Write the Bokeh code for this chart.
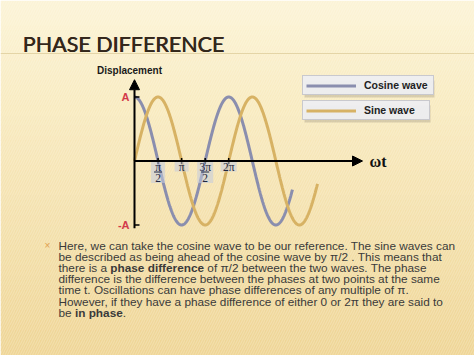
import numpy as np
from bokeh.plotting import figure
from bokeh.models import (Range1d, Label, Arrow, NormalHead, Legend, LegendItem,
                          BoxAnnotation, Span, ColumnDataSource)
from bokeh.core.properties import value
from bokeh.embed import file_html
from bokeh.resources import INLINE

W, H = 474, 355

# ---------------- data ----------------
TITLE = "PHASE DIFFERENCE"
Y_LABEL = "Displacement"
X_LABEL = "ωt"
AMPLITUDE = 1.0
amp_labels = ["A", "-A"]
amp_values = [AMPLITUDE, -AMPLITUDE]
tick_values = [np.pi / 2, np.pi, 3 * np.pi / 2, 2 * np.pi]
tick_numerators = ["π", "π", "3π", "2π"]
tick_denominators = ["2", "", "2", ""]
series_names = ["Cosine wave", "Sine wave"]
cos_end = 10.53   # radians where the drawn cosine stops
sin_end = 12.2    # radians where the drawn sine stops
x_axis_end = 15.2
y_axis_bottom = -1.05
y_axis_top = 1.27

bullet_segments = [
    # (line, text, bold)
    (0, "Here, we can take the cosine wave to be our reference. The sine waves can", False),
    (1, "be described as being ahead of the cosine wave by π/2 . This means that", False),
    (2, "there is a ", False), (2, "phase difference", True),
    (2, " of π/2 between the two waves. The phase", False),
    (3, "difference is the difference between the phases at two points at the same", False),
    (4, "time t. Oscillations can have phase differences of any multiple of π.", False),
    (5, "However, if they have a phase difference of either 0 or 2π they are said to", False),
    (6, "be ", False), (6, "in phase", True), (6, ".", False),
]

# ---------------- layout constants ----------------
ORIGIN_X, ORIGIN_Y = 134.0, 160.5
PX_PER_RAD, PX_PER_AMP = 15.0, 64.0
TXT_SIZE = 11.8
TXT_X, TXT_Y0, TXT_DY = 58.0, 245.0, 11.2

REG = dict(zip("abcdefghijklmnopqrstuvwxyz ",
               [556, 556, 500, 556, 556, 278, 556, 556, 222, 222, 500, 222, 833, 556, 556, 556,
                556, 333, 500, 278, 556, 500, 722, 500, 500, 500, 278]))
BLD = dict(zip("abcdefghijklmnopqrstuvwxyz ",
               [556, 611, 556, 611, 556, 333, 611, 611, 278, 278, 556, 278, 889, 611, 611, 611,
                611, 389, 556, 333, 611, 556, 778, 556, 556, 500, 278]))


def text_w(s, bold):
    m = BLD if bold else REG
    return sum(m.get(c, 556) for c in s) * TXT_SIZE / 1000.0


p = figure(width=W, height=H, x_range=Range1d(0, W), y_range=Range1d(H, 0),
           min_border=0, toolbar_location=None, output_backend="svg",
           x_axis_location=None, y_axis_location=None)
p.grid.visible = False
p.outline_line_color = None
p.extra_x_ranges = {"theta": Range1d(-ORIGIN_X / PX_PER_RAD, (W - ORIGIN_X) / PX_PER_RAD)}
p.extra_y_ranges = {"amp": Range1d(-(H - ORIGIN_Y) / PX_PER_AMP, ORIGIN_Y / PX_PER_AMP)}

# ---------------- background ----------------
stops_y = [0, 90, 355]
stops_c = [(252, 244, 214), (249, 236, 194), (239, 213, 148)]
edges = np.linspace(0, H, 72)
mids = (edges[:-1] + edges[1:]) / 2
bg_cols = []
for yy in mids:
    c = [int(np.interp(yy, stops_y, [s[k] for s in stops_c])) for k in range(3)]
    bg_cols.append("#%02x%02x%02x" % tuple(c))
p.quad(left=0, right=W, top=edges[:-1], bottom=edges[1:] + 0.5, fill_color=bg_cols, line_color=None)
p.quad(left=0, right=W, top=0, bottom=H, fill_alpha=0, line_alpha=0,
       hatch_pattern="/", hatch_color="#ffffff", hatch_alpha=0.2, hatch_scale=5, hatch_weight=1.2)
p.add_layout(Span(location=53, dimension="width", line_color="#e4d4a6", line_width=1))

# ---------------- title ----------------
for dx in (0.0, 0.6):
    p.add_layout(Label(x=22 + dx, y=43, text=TITLE, text_font="Lato", text_font_size="21.5px",
                       text_color="#33271b", text_baseline="alphabetic"))

# ---------------- waves ----------------
theta_cos = np.linspace(0, cos_end, 400)
theta_sin = np.linspace(0, sin_end, 460)
cos_r = p.line(theta_cos, AMPLITUDE * np.cos(theta_cos), x_range_name="theta", y_range_name="amp",
               line_color="#8a8eae", line_width=3)
sin_r = p.line(theta_sin, AMPLITUDE * np.sin(theta_sin), x_range_name="theta", y_range_name="amp",
               line_color="#d7b264", line_width=3)

# ---------------- axes ----------------
head = dict(size=10, fill_color="black", line_color="black")
p.add_layout(Arrow(x_start=0, y_start=0, x_end=x_axis_end, y_end=0, x_range_name="theta",
                   y_range_name="amp", line_width=2, end=NormalHead(**head)))
p.add_layout(Arrow(x_start=0, y_start=y_axis_bottom, x_end=0, y_end=y_axis_top, x_range_name="theta",
                   y_range_name="amp", line_width=2, end=NormalHead(**head)))

tick_half = 3 / PX_PER_AMP
p.segment(x0=tick_values, x1=tick_values, y0=[-tick_half] * 4, y1=[tick_half] * 4,
          x_range_name="theta", y_range_name="amp", line_color="black", line_width=1.5)
p.segment(x0=[0, 0], x1=[5 / PX_PER_RAD] * 2, y0=amp_values, y1=amp_values,
          x_range_name="theta", y_range_name="amp", line_color="black", line_width=1.5)

# tick label highlight boxes
is_frac = [d != "" for d in tick_denominators]
box_h = [22 if f else 11 for f in is_frac]
box_y = [-(11 if f else 5) / PX_PER_AMP for f in is_frac]
box_w = [14 if len(n) == 1 else 16 for n in tick_numerators]
p.rect(x=tick_values, y=box_y, width=box_w, height=box_h, width_units="screen",
       height_units="screen", x_range_name="theta", y_range_name="amp",
       fill_color="#c3cadf", fill_alpha=0.55, line_color=None)

lab_style = dict(text_font=value("Liberation Serif"), text_font_size="11.5px",
                 text_color="#1f2740", text_align="center", text_baseline="middle",
                 x_range_name="theta", y_range_name="amp")
p.text(x=tick_values, y=[0] * 4, text=tick_numerators, y_offset=5.5, **lab_style)
p.text(x=tick_values, y=[0] * 4, text=tick_denominators, y_offset=16.5, **lab_style)
frac_x = [t for t, f in zip(tick_values, is_frac) if f]
bar_y = -11 / PX_PER_AMP
p.segment(x0=[t - 4 / PX_PER_RAD for t in frac_x], x1=[t + 4 / PX_PER_RAD for t in frac_x],
          y0=[bar_y] * len(frac_x), y1=[bar_y] * len(frac_x),
          x_range_name="theta", y_range_name="amp", line_color="#1f2740", line_width=1)

p.text(x=[0, 0], y=amp_values, text=amp_labels, x_offset=-5, x_range_name="theta",
       y_range_name="amp", text_font=value("Liberation Sans"), text_font_size="11px",
       text_font_style="bold", text_color="#d23a4a", text_align="right", text_baseline="middle")

p.add_layout(Label(x=129, y=70, text=Y_LABEL, text_font="Liberation Sans", text_font_size="10px",
                   text_font_style="bold", text_color="#1a1a1a", text_align="center",
                   text_baseline="middle"))
p.add_layout(Label(x=x_axis_end, y=0, x_range_name="theta", y_range_name="amp", x_offset=7,
                   text=X_LABEL, text_font="Liberation Serif", text_font_size="16px",
                   text_font_style="bold", text_color="#111111", text_baseline="middle"))

# ---------------- legend boxes ----------------
p.add_layout(BoxAnnotation(left=304, right=434, top=80, bottom=97, fill_color="#8a8070",
                           fill_alpha=0.3, line_alpha=0))
p.add_layout(BoxAnnotation(left=304, right=430, top=105, bottom=122, fill_color="#8a8070",
                           fill_alpha=0.3, line_alpha=0))
for r, name, loc, lw in [(cos_r, series_names[0], (302, 260), 66), (sin_r, series_names[1], (302, 235), 62)]:
    leg = Legend(items=[LegendItem(label=name, renderers=[r])], location=loc,
                 glyph_width=50, glyph_height=11, label_height=11, label_width=lw,
                 label_standoff=8, padding=3, margin=0, spacing=0,
                 border_line_color="#a4a4ac", border_line_width=1,
                 background_fill_color="#eeeef1", background_fill_alpha=0.95,
                 label_text_font="Liberation Sans", label_text_font_size="10.5px",
                 label_text_font_style="bold", label_text_color="#222222")
    p.add_layout(leg)

# ---------------- bullet text ----------------
xs, ys, ts, st = [], [], [], []
cursor = {}
for line, txt, bold in bullet_segments:
    x0 = cursor.get(line, TXT_X)
    lead = len(txt) - len(txt.lstrip(" "))
    x0 += text_w(" " * lead, bold)
    body = txt.lstrip(" ")
    xs.append(x0)
    ys.append(TXT_Y0 + line * TXT_DY)
    ts.append(body)
    st.append("bold" if bold else "normal")
    cursor[line] = x0 + text_w(body, bold)
src = ColumnDataSource(dict(x=xs, y=ys, text=ts, style=st))
p.text(x="x", y="y", text="text", source=src, text_font=value("Liberation Sans"),
       text_font_size="%.1fpx" % TXT_SIZE, text_font_style="style", text_color="#3a3a3a",
       text_baseline="middle")
p.text(x=[47], y=[TXT_Y0], text=["×"], text_font=value("Liberation Sans"), text_font_size="10px",
       text_color="#e0a050", text_align="center", text_baseline="middle")

open("out.html", "w").write(file_html(p, INLINE))
